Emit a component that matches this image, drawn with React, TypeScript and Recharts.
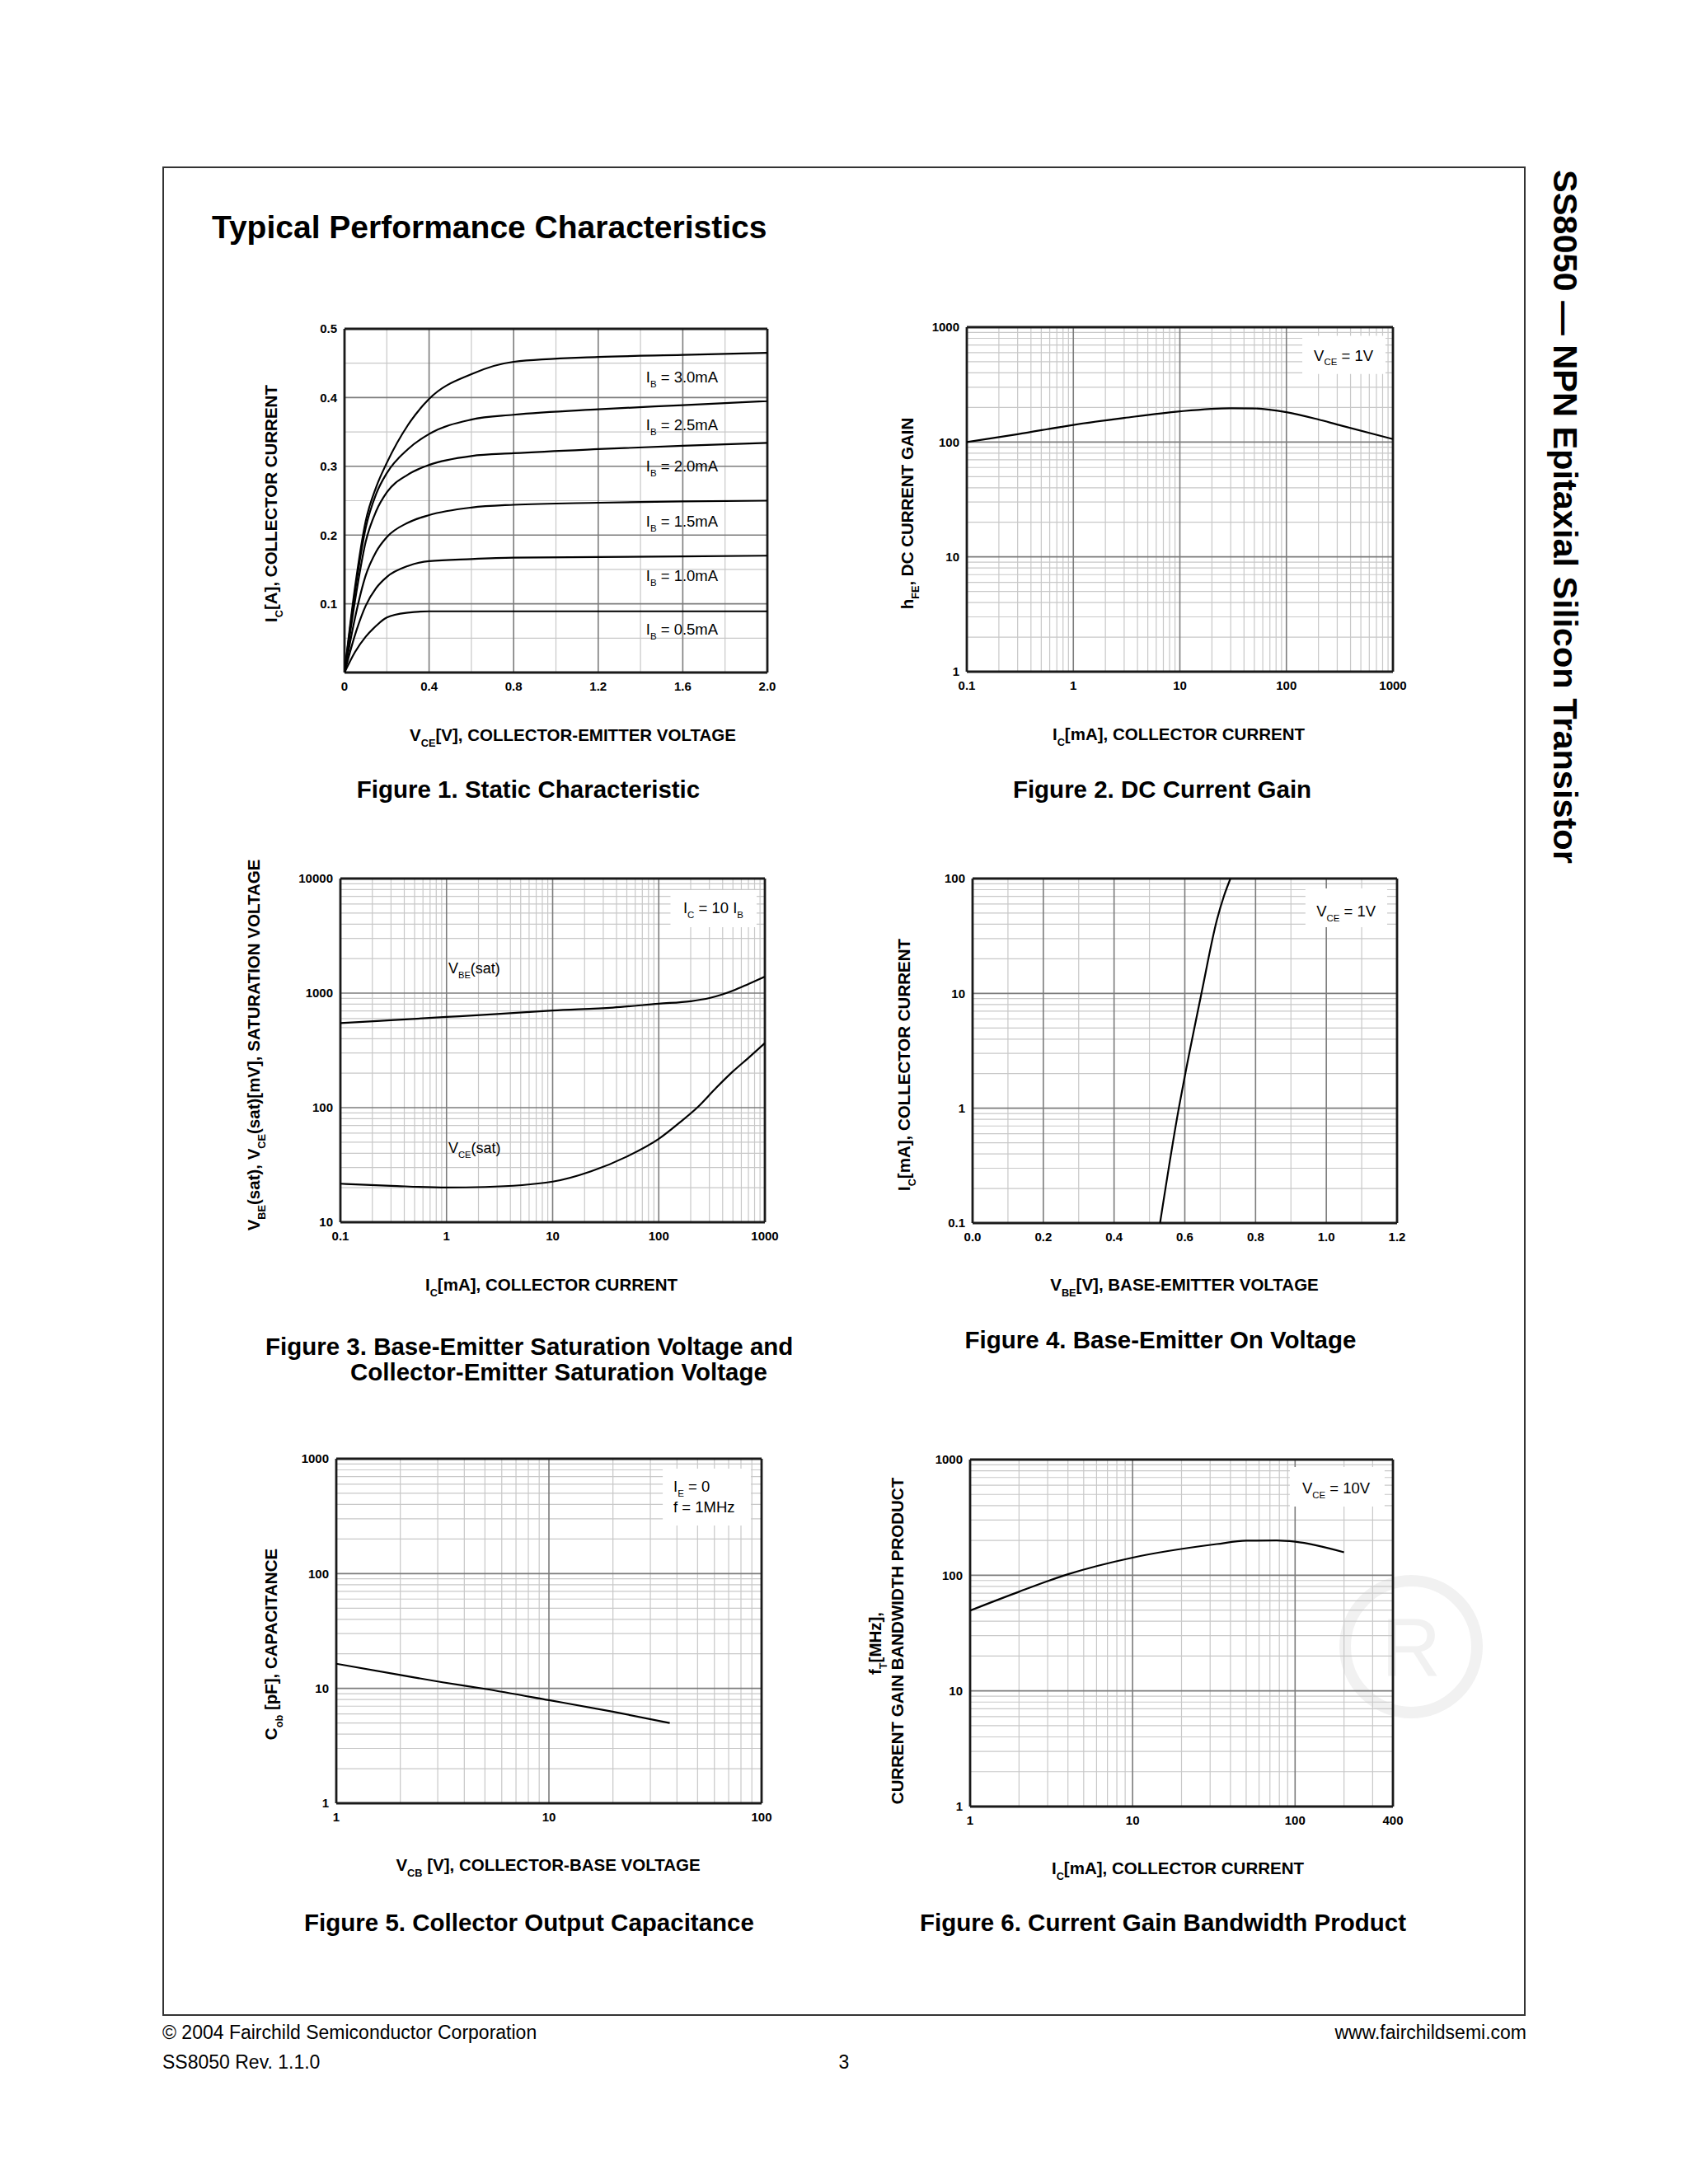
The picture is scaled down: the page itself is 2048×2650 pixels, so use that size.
import React from "react";
import {
    LineChart,
    Line,
    XAxis,
    YAxis,
    ReferenceLine,
    ReferenceArea,
    ReferenceDot,
} from "recharts";

const FONT = "'Liberation Sans', Arial, Helvetica, sans-serif";
const MAJOR = "#7c7c7c";
const MINOR = "#c8c8c8";
const WATERMARK = "#f1f1f1";

// Figure 1 - static characteristic, IC [A] against VCE [V], one curve per IB
const VCE_V = [0, 0.05, 0.1, 0.15, 0.2, 0.3, 0.4, 0.6, 0.8, 1.2, 1.6, 2.0];
const IC_IB_0_5 = [0, 0.03, 0.052, 0.068, 0.08, 0.087, 0.089, 0.089, 0.089, 0.089, 0.089, 0.089];
const IC_IB_1_0 = [0, 0.055, 0.097, 0.123, 0.139, 0.155, 0.162, 0.165, 0.167, 0.168, 0.169, 0.17];
const IC_IB_1_5 = [0, 0.08, 0.141, 0.176, 0.197, 0.218, 0.229, 0.24, 0.244, 0.247, 0.249, 0.25];
const IC_IB_2_0 = [0, 0.105, 0.19, 0.235, 0.262, 0.288, 0.302, 0.315, 0.319, 0.325, 0.33, 0.334];
const IC_IB_2_5 = [0, 0.118, 0.21, 0.26, 0.29, 0.325, 0.347, 0.368, 0.375, 0.383, 0.389, 0.395];
const IC_IB_3_0 = [0, 0.125, 0.22, 0.27, 0.305, 0.36, 0.398, 0.434, 0.452, 0.459, 0.462, 0.465];
const IB_NAMES = ["0.5mA", "1.0mA", "1.5mA", "2.0mA", "2.5mA", "3.0mA"];
const IB_LABEL_IC = [0.063, 0.141, 0.22, 0.3, 0.36, 0.43];
const FIG1_X_TICKS = [0, 0.4, 0.8, 1.2, 1.6, 2.0];
const FIG1_Y_TICKS = [0.1, 0.2, 0.3, 0.4, 0.5];

// Figure 2 - DC current gain
const HFE_IC = [0.1, 0.3, 1, 3, 10, 30, 50, 100, 200, 300, 1000];
const HFE = [100, 117, 141, 162, 185, 197, 196, 182, 157, 142, 106];

// Figure 3 - saturation voltages
const VBE_SAT_IC = [0.1, 0.3, 1, 3, 10, 37, 100, 200, 300, 400, 500, 700, 1000];
const VBE_SAT = [547, 580, 619, 657, 705, 748, 808, 850, 905, 975, 1050, 1200, 1390];
const VCE_SAT_IC = [0.1, 0.3, 1, 2.3, 10, 23, 50, 100, 157, 230, 350, 494, 700, 1000];
const VCE_SAT = [21.7, 20.8, 20.1, 20.3, 22.6, 27.8, 37.4, 53.4, 74, 100, 150, 205, 272, 366];

// Figure 4 - base-emitter on voltage
const VBE_ON = [0.53, 0.583, 0.6, 0.647, 0.691, 0.711, 0.729];
const IC_ON = [0.1, 1, 1.9, 10, 44, 71, 100];

// Figure 5 - collector output capacitance
const VCB = [1, 2, 3.16, 5, 10, 19.7, 37];
const COB = [16.4, 13.1, 11.3, 9.9, 7.9, 6.3, 5.0];

// Figure 6 - current gain bandwidth product
const FT_IC = [1, 2, 4, 10, 33, 50, 77, 100, 200];
const FT = [49.5, 72, 102, 142, 186, 199, 200, 195, 158];

const DECADE_TICKS = [0.1, 1, 10, 100, 1000, 10000];
const FIG4_X_TICKS = [0, 0.2, 0.4, 0.6, 0.8, 1.0, 1.2];
const FIG6_X_TICKS = [1, 10, 100, 400];

type Seg = [string, boolean?];
type Box = { x: number; y: number; w: number; h: number };

const PAD = { l: 70, t: 12, r: 40, b: 30 };
const TICK = { fontSize: 15, fontWeight: 700, fill: "#000", fontFamily: FONT };

const pts = (xs: number[], ys: number[]) => xs.map((x, i) => ({ x, y: ys[i] }));

function decades(min: number, max: number) {
    const major: number[] = [];
    const minor: number[] = [];
    for (let d = Math.round(Math.log10(min)); Math.pow(10, d) < max; d++) {
        const base = Math.pow(10, d);
        if (base > min) major.push(base);
        for (let k = 2; k <= 9; k++) {
            const v = +(k * base).toPrecision(6);
            if (v > min && v < max) minor.push(v);
        }
    }
    return { major, minor };
}

function rich(segs: Seg[], size: number) {
    let low = false;
    return segs.map(([t, sub], i) => {
        const s = !!sub;
        const dy = s === low ? 0 : s ? size * 0.32 : -size * 0.32;
        low = s;
        return (
            <tspan key={i} dy={dy} fontSize={s ? size * 0.62 : size}>
                {t}
            </tspan>
        );
    });
}

function grid(
    xMinor: number[],
    xMajor: number[],
    yMinor: number[],
    yMajor: number[]
) {
    return [
        ...xMinor.map((v) => (
            <ReferenceLine key={"xm" + v} x={v} stroke={MINOR} strokeWidth={1.2} zIndex={1} />
        )),
        ...yMinor.map((v) => (
            <ReferenceLine key={"ym" + v} y={v} stroke={MINOR} strokeWidth={1.2} zIndex={1} />
        )),
        ...xMajor.map((v) => (
            <ReferenceLine key={"xM" + v} x={v} stroke={MAJOR} strokeWidth={1.6} zIndex={2} />
        )),
        ...yMajor.map((v) => (
            <ReferenceLine key={"yM" + v} y={v} stroke={MAJOR} strokeWidth={1.6} zIndex={2} />
        )),
    ];
}

function frame(x: [number, number], y: [number, number]) {
    return [
        <ReferenceLine key="f1" x={x[0]} stroke="#1a1a1a" strokeWidth={2.8} zIndex={4} />,
        <ReferenceLine key="f2" x={x[1]} stroke="#1a1a1a" strokeWidth={2.8} zIndex={4} />,
        <ReferenceLine key="f3" y={y[0]} stroke="#1a1a1a" strokeWidth={2.8} zIndex={4} />,
        <ReferenceLine key="f4" y={y[1]} stroke="#1a1a1a" strokeWidth={2.8} zIndex={4} />,
    ];
}

function whiteBox(x1: number, x2: number, y1: number, y2: number) {
    return (
        <ReferenceArea
            key="box"
            x1={x1}
            x2={x2}
            y1={y1}
            y2={y2}
            fill="#fff"
            fillOpacity={1}
            stroke="none"
            zIndex={3}
        />
    );
}

function note(key: string, x: number, y: number, segs: Seg[], size = 18.5) {
    return (
        <ReferenceDot
            key={key}
            x={x}
            y={y}
            r={1}
            zIndex={20}
            shape={(p: any) => (
                <text
                    x={p.cx}
                    y={p.cy + size * 0.36}
                    fontSize={size}
                    fontFamily={FONT}
                    fill="#000"
                >
                    {rich(segs, size)}
                </text>
            )}
        />
    );
}

function curve(key: string, xs: number[], ys: number[]) {
    return (
        <Line
            key={key}
            data={pts(xs, ys)}
            dataKey="y"
            type="monotone"
            stroke="#000"
            strokeWidth={2.2}
            dot={false}
            activeDot={false}
            isAnimationActive={false}
            zIndex={10}
        />
    );
}

function Panel({ box, children }: { box: Box; children: React.ReactNode }) {
    return (
        <div style={{ position: "absolute", left: box.x - PAD.l, top: box.y - PAD.t }}>
            <LineChart
                width={box.w + PAD.l + PAD.r}
                height={box.h + PAD.t + PAD.b}
                margin={{ top: PAD.t, right: PAD.r, bottom: 0, left: 0 }}
            >
                {children}
            </LineChart>
        </div>
    );
}

function xAxis(domain: [number, number], ticks: number[], log: boolean, fmt?: (v: number) => string) {
    return (
        <XAxis
            type="number"
            dataKey="x"
            scale={log ? "log" : "linear"}
            domain={domain}
            ticks={ticks}
            interval={0}
            allowDataOverflow
            axisLine={false}
            tickLine={false}
            tickSize={6}
            tickMargin={5}
            height={PAD.b}
            tick={TICK}
            tickFormatter={fmt}
        />
    );
}

function yAxis(domain: [number, number], ticks: number[], log: boolean) {
    return (
        <YAxis
            type="number"
            scale={log ? "log" : "linear"}
            domain={domain}
            ticks={ticks}
            interval={0}
            allowDataOverflow
            axisLine={false}
            tickLine={false}
            tickSize={6}
            tickMargin={3}
            width={PAD.l}
            tick={TICK}
        />
    );
}

const within = (t: number[], lo: number, hi: number) => t.filter((v) => v >= lo && v <= hi);

function Label({
    x,
    y,
    segs,
    size = 20.5,
    bold = true,
    anchor = "middle",
    rotate = 0,
}: {
    x: number;
    y: number;
    segs: Seg[];
    size?: number;
    bold?: boolean;
    anchor?: "start" | "middle" | "end";
    rotate?: number;
}) {
    return (
        <text
            transform={`translate(${x},${y}) rotate(${rotate})`}
            fontSize={size}
            fontWeight={bold ? 700 : 400}
            textAnchor={anchor}
            fill="#000"
        >
            {rich(segs, size)}
        </text>
    );
}

export default function App() {
    const g2x = decades(0.1, 1000);
    const g2y = decades(1, 1000);
    const g3y = decades(10, 10000);
    const g4y = decades(0.1, 100);
    const g5x = decades(1, 100);
    const g6x = decades(1, 400);
    const fig1Curves = [IC_IB_0_5, IC_IB_1_0, IC_IB_1_5, IC_IB_2_0, IC_IB_2_5, IC_IB_3_0];
    const fix1 = (v: number) => (v === 0 ? "0" : v.toFixed(1));

    return (
        <div
            style={{
                position: "absolute",
                left: 0,
                top: 0,
                width: 2048,
                height: 2650,
                background: "#fff",
                overflow: "hidden",
                fontFamily: FONT,
            }}
        >
            <style>{".recharts-surface{overflow:visible}"}</style>
            <svg
                width={2048}
                height={2650}
                style={{ position: "absolute", left: 0, top: 0 }}
                fontFamily={FONT}
            >
                {/* faint registered mark of the page watermark */}
                <circle cx={1712} cy={1998} r={80} fill="none" stroke={WATERMARK} strokeWidth={14} />
                <text x={1712} y={2034} fontSize={100} textAnchor="middle" fill={WATERMARK}>
                    R
                </text>

                <rect x={198} y={203} width={1652} height={2242} fill="none" stroke="#333" strokeWidth={2} />
                <Label x={257} y={289} segs={[["Typical Performance Characteristics"]]} size={39} anchor="start" />
                <Label
                    x={1885}
                    y={206}
                    segs={[["SS8050 \u2014 NPN Epitaxial Silicon Transistor"]]}
                    size={41.5}
                    anchor="start"
                    rotate={90}
                />

                {/* figure captions */}
                <Label x={641} y={968} segs={[["Figure 1. Static Characteristic"]]} size={29.5} />
                <Label x={1410} y={968} segs={[["Figure 2. DC Current Gain"]]} size={29.5} />
                <Label x={322} y={1644} segs={[["Figure 3. Base-Emitter Saturation Voltage and"]]} size={29.5} anchor="start" />
                <Label x={425} y={1675} segs={[["Collector-Emitter Saturation Voltage"]]} size={29.5} anchor="start" />
                <Label x={1408} y={1636} segs={[["Figure 4. Base-Emitter On Voltage"]]} size={29.5} />
                <Label x={642} y={2343} segs={[["Figure 5. Collector Output Capacitance"]]} size={29.5} />
                <Label x={1411} y={2343} segs={[["Figure 6. Current Gain Bandwidth Product"]]} size={29.5} />

                {/* axis titles */}
                <Label x={695} y={899} segs={[["V"], ["CE", true], ["[V], COLLECTOR-EMITTER VOLTAGE"]]} />
                <Label x={336} y={611} rotate={-90} segs={[["I"], ["C", true], ["[A], COLLECTOR CURRENT"]]} />
                <Label x={1430} y={898} segs={[["I"], ["C", true], ["[mA], COLLECTOR CURRENT"]]} />
                <Label x={1108} y={623} rotate={-90} segs={[["h"], ["FE", true], [", DC CURRENT GAIN"]]} />
                <Label x={669} y={1566} segs={[["I"], ["C", true], ["[mA], COLLECTOR CURRENT"]]} />
                <Label
                    x={315}
                    y={1268}
                    rotate={-90}
                    segs={[["V"], ["BE", true], ["(sat), V"], ["CE", true], ["(sat)[mV], SATURATION VOLTAGE"]]}
                />
                <Label x={1437} y={1566} segs={[["V"], ["BE", true], ["[V], BASE-EMITTER VOLTAGE"]]} />
                <Label x={1104} y={1292} rotate={-90} segs={[["I"], ["C", true], ["[mA], COLLECTOR CURRENT"]]} />
                <Label x={665} y={2270} segs={[["V"], ["CB", true], [" [V], COLLECTOR-BASE VOLTAGE"]]} />
                <Label x={336} y={1995} rotate={-90} segs={[["C"], ["ob", true], [" [pF], CAPACITANCE"]]} />
                <Label x={1429} y={2274} segs={[["I"], ["C", true], ["[mA], COLLECTOR CURRENT"]]} />
                <Label x={1069} y={1994} rotate={-90} segs={[["f"], ["T", true], ["[MHz],"]]} />
                <Label x={1096} y={1991} rotate={-90} segs={[["CURRENT GAIN BANDWIDTH PRODUCT"]]} />

                {/* footer */}
                <Label x={197} y={2474} segs={[["\u00a9 2004 Fairchild Semiconductor Corporation"]]} size={23} bold={false} anchor="start" />
                <Label x={1852} y={2474} segs={[["www.fairchildsemi.com"]]} size={23} bold={false} anchor="end" />
                <Label x={197} y={2510} segs={[["SS8050 Rev. 1.1.0"]]} size={23} bold={false} anchor="start" />
                <Label x={1024} y={2510} segs={[["3"]]} size={23} bold={false} />
            </svg>

            {/* Figure 1 */}
            <Panel box={{ x: 418, y: 399, w: 513, h: 417 }}>
                {xAxis([0, 2], FIG1_X_TICKS, false, fix1)}
                {yAxis([0, 0.5], FIG1_Y_TICKS, false)}
                {grid(
                    [0.2, 0.6, 1.0, 1.4, 1.8],
                    [0.4, 0.8, 1.2, 1.6],
                    [0.05, 0.15, 0.25, 0.35, 0.45],
                    [0.1, 0.2, 0.3, 0.4]
                )}
                {frame([0, 2], [0, 0.5])}
                {fig1Curves.map((ys, i) => curve("ib" + i, VCE_V, ys))}
                {IB_NAMES.map((n, i) =>
                    note("lb" + i, 1.426, IB_LABEL_IC[i], [["I"], ["B", true], [" = " + n]])
                )}
            </Panel>

            {/* Figure 2 */}
            <Panel box={{ x: 1173, y: 397, w: 517, h: 418 }}>
                {xAxis([0.1, 1000], within(DECADE_TICKS, 0.1, 1000), true)}
                {yAxis([1, 1000], within(DECADE_TICKS, 1, 1000), true)}
                {grid(g2x.minor, g2x.major, g2y.minor, g2y.major)}
                {whiteBox(141, 851, 391, 842)}
                {frame([0.1, 1000], [1, 1000])}
                {curve("hfe", HFE_IC, HFE)}
                {note("vce", 181, 571, [["V"], ["CE", true], [" = 1V"]])}
            </Panel>

            {/* Figure 3 */}
            <Panel box={{ x: 413, y: 1066, w: 515, h: 417 }}>
                {xAxis([0.1, 1000], within(DECADE_TICKS, 0.1, 1000), true)}
                {yAxis([10, 10000], within(DECADE_TICKS, 10, 10000), true)}
                {grid(g2x.minor, g2x.major, g3y.minor, g3y.major)}
                {whiteBox(129, 836, 3767, 7925)}
                {frame([0.1, 1000], [10, 10000])}
                {curve("vbe", VBE_SAT_IC, VBE_SAT)}
                {curve("vce", VCE_SAT_IC, VCE_SAT)}
                {note("icib", 170, 5598, [["I"], ["C", true], [" = 10 I"], ["B", true]])}
                {note("vbel", 1.04, 1644, [["V"], ["BE", true], ["(sat)"]], 18)}
                {note("vcel", 1.04, 44.8, [["V"], ["CE", true], ["(sat)"]], 18)}
            </Panel>

            {/* Figure 4 */}
            <Panel box={{ x: 1180, y: 1066, w: 515, h: 418 }}>
                {xAxis([0, 1.2], FIG4_X_TICKS, false, (v) => v.toFixed(1))}
                {yAxis([0.1, 100], within(DECADE_TICKS, 0.1, 100), true)}
                {grid(
                    [0.1, 0.3, 0.5, 0.7, 0.9, 1.1],
                    [0.2, 0.4, 0.6, 0.8, 1.0],
                    g4y.minor,
                    g4y.major
                )}
                {whiteBox(0.941, 1.172, 37.7, 82)}
                {frame([0, 1.2], [0.1, 100])}
                {curve("on", VBE_ON, IC_ON)}
                {note("vce", 0.972, 52.5, [["V"], ["CE", true], [" = 1V"]])}
            </Panel>

            {/* Figure 5 */}
            <Panel box={{ x: 408, y: 1770, w: 516, h: 418 }}>
                {xAxis([1, 100], within(DECADE_TICKS, 1, 100), true)}
                {yAxis([1, 1000], within(DECADE_TICKS, 1, 1000), true)}
                {grid(g5x.minor, g5x.major, g2y.minor, g2y.major)}
                {whiteBox(34.3, 89.1, 262, 820)}
                {frame([1, 100], [1, 1000])}
                {curve("cob", VCB, COB)}
                {note("ie", 38.5, 580, [["I"], ["E", true], [" = 0"]])}
                {note("f", 38.5, 384, [["f = 1MHz"]])}
            </Panel>

            {/* Figure 6 */}
            <Panel box={{ x: 1177, y: 1771, w: 513, h: 421 }}>
                {xAxis([1, 400], FIG6_X_TICKS, true)}
                {yAxis([1, 1000], within(DECADE_TICKS, 1, 1000), true)}
                {grid(g6x.minor, g6x.major, g2y.minor, g2y.major)}
                {whiteBox(92.8, 355.5, 393, 864)}
                {frame([1, 400], [1, 1000])}
                {curve("ft", FT_IC, FT)}
                {note("vce", 110.6, 573, [["V"], ["CE", true], [" = 10V"]])}
            </Panel>
        </div>
    );
}
